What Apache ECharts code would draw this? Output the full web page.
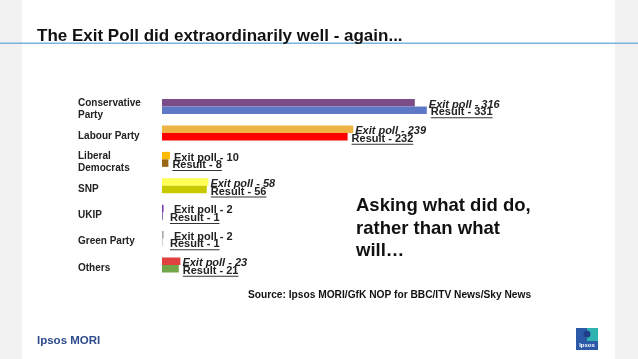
<!DOCTYPE html>
<html><head><meta charset="utf-8">
<script src="https://cdn.jsdelivr.net/npm/echarts@6/dist/echarts.min.js"></script>
<style>html,body{margin:0;padding:0;background:#fff}#c{width:638px;height:359px}</style>
</head><body><div id="c"></div>
<script>
var categories = ['Conservative\nParty', 'Labour Party', 'Liberal\nDemocrats', 'SNP', 'UKIP', 'Green Party', 'Others'];
var exitPoll = [316, 239, 10, 58, 2, 2, 23];
var result = [331, 232, 8, 56, 1, 1, 21];
var exitColors = ['#7B4C87', '#EDB444', '#FFB900', '#FFFF55', '#7A3FB0', '#A8A8A8', '#E0403F'];
var resultColors = ['#5E78C6', '#FF0000', '#9A6812', '#C9C900', '#6A4FA0', '#C8C8C8', '#72A545'];
var exitItalic = [true, true, false, true, false, false, true];

var FONT = '"Liberation Sans", Arial, sans-serif';
var barW = 7.5;
var ctx = document.createElement('canvas').getContext('2d');
function textW(t, italic) { ctx.font = (italic ? 'italic ' : '') + 'bold 11px ' + FONT; return ctx.measureText(t).width; }

var chart = echarts.init(document.getElementById('c'), null, {renderer: 'canvas'});

var labelData = categories.map(function (c, i) { return [i, exitPoll[i], result[i]]; });

chart.setOption({
  backgroundColor: '#fff',
  animation: false,
  title: {
    text: 'The Exit Poll did extraordinarily well - again...',
    left: 32, top: 23,
    textStyle: {fontFamily: FONT, fontWeight: 'bold', fontSize: 17, color: '#111'}
  },
  grid: [
    {left: 162, right: 156, top: 93.3, bottom: 80.8},
    {left: 162, right: 156, top: 96.3, bottom: 77.8}
  ],
  xAxis: [
    {type: 'value', min: 0, max: 400, show: false, gridIndex: 0},
    {type: 'value', min: 0, max: 400, show: false, gridIndex: 1}
  ],
  yAxis: [
    {
      type: 'category', data: categories, inverse: true, gridIndex: 0,
      axisLine: {show: false}, axisTick: {show: false}, splitLine: {show: false},
      axisLabel: {show: false}
    },
    {
      type: 'category', data: categories, inverse: true, gridIndex: 1,
      axisLine: {show: false}, axisTick: {show: false}, splitLine: {show: false},
      axisLabel: {
        interval: 0, align: 'left', margin: 84, fontFamily: FONT, fontWeight: 'bold', fontSize: 10,
        color: '#222', lineHeight: 12
      }
    }
  ],
  graphic: [
    {type: 'rect', silent: true, z: -10, shape: {x: 0, y: 0, width: 22, height: 359}, style: {fill: '#F2F2F2'}},
    {type: 'rect', silent: true, z: -10, shape: {x: 615, y: 0, width: 23, height: 359}, style: {fill: '#F2F2F2'}},
    {type: 'rect', silent: true, z: 1, shape: {x: 0, y: 42.5, width: 638, height: 1.6}, style: {fill: '#7AB3D8'}},
    {type: 'text', left: 356, top: 195, style: {text: 'Asking what did do,\nrather than what\nwill…', font: 'bold 18.5px ' + FONT, fill: '#111', lineHeight: 22.5}},
    {type: 'text', left: 248, top: 290, style: {text: 'Source: Ipsos MORI/GfK NOP for BBC/ITV News/Sky News', font: 'bold 10.2px ' + FONT, fill: '#111'}},
    {type: 'text', left: 37, top: 335, style: {text: 'Ipsos MORI', font: 'bold 11.5px ' + FONT, fill: '#2C4A8C'}},
    {type: 'group', left: 576, top: 328, children: [
      {type: 'rect', shape: {x: 0, y: 0, width: 22, height: 22}, style: {fill: '#2B59A8'}},
      {type: 'rect', shape: {x: 11, y: 0, width: 11, height: 13}, style: {fill: '#2FB3B0'}},
      {type: 'circle', shape: {cx: 11, cy: 6, r: 3.5}, style: {fill: '#1F3F8A'}},
      {type: 'text', style: {text: 'Ipsos', x: 11, y: 17, font: 'bold 6px ' + FONT, fill: '#fff', align: 'center', verticalAlign: 'middle'}}
    ]}
  ],
  series: [
    {
      type: 'bar', name: 'Exit poll', barWidth: barW, barGap: '0%', xAxisIndex: 0, yAxisIndex: 0,
      data: exitPoll.map(function (v, i) { return {value: v, itemStyle: {color: exitColors[i]}}; })
    },
    {
      type: 'bar', name: 'Result', barWidth: barW, barGap: '0%', xAxisIndex: 0, yAxisIndex: 0,
      data: result.map(function (v, i) { return {value: v, itemStyle: {color: resultColors[i]}}; })
    },
    {
      type: 'custom', name: 'labels', z: 5, xAxisIndex: 0, yAxisIndex: 0,
      encode: {x: [1, 2], y: 0},
      data: labelData,
      renderItem: function (params, api) {
        var cat = api.value(0), ev = api.value(1), rv = api.value(2);
        var idx = params.dataIndex;
        var center = api.coord([0, cat]);
        var maxEnd = api.coord([Math.max(ev, rv), cat])[0];
        var resEnd = api.coord([rv, cat])[0];
        var x0 = center[0];
        var exitX = Math.max(maxEnd + 2, x0 + 12);
        var resX = Math.max(resEnd + 4, x0 + 8);
        var yE = center[1] - barW / 2 + 2;
        var yR = center[1] + barW / 2 + 2;
        var et = 'Exit poll - ' + ev;
        var rt = 'Result - ' + rv;
        var it = exitItalic[idx];
        var rw = textW(rt, false);
        return {
          type: 'group',
          children: [
            {type: 'text', style: {text: et, x: exitX, y: yE, font: (it ? 'italic ' : '') + 'bold 11px ' + FONT, fill: '#222', verticalAlign: 'middle'}},
            {type: 'text', style: {text: rt, x: resX, y: yR, font: 'bold 11px ' + FONT, fill: '#222', verticalAlign: 'middle'}},
            {type: 'rect', shape: {x: resX, y: yR + 5, width: rw, height: 1}, style: {fill: '#333'}}
          ]
        };
      }
    }
  ]
});
</script></body></html>
